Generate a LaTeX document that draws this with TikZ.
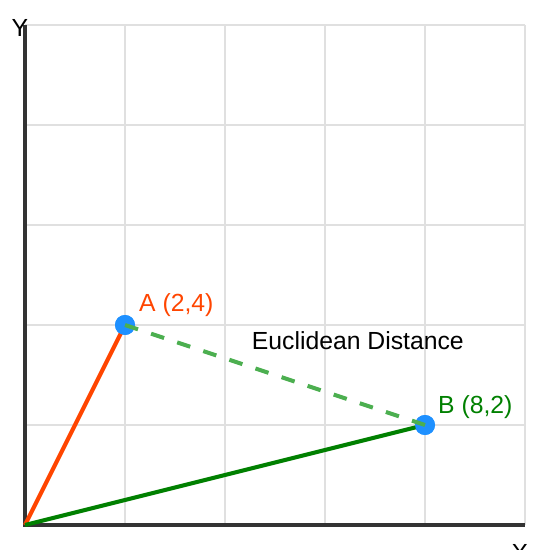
\documentclass[tikz,border=0pt]{standalone}
\usepackage{fontspec}
\setmainfont{Liberation Sans}
\definecolor{gridgray}{HTML}{E0E0E0}
\definecolor{axisgray}{HTML}{333333}
\definecolor{lineorange}{HTML}{FF4500}
\definecolor{linegreen}{HTML}{008000}
\definecolor{distgreen}{HTML}{4CAF50}
\definecolor{pointblue}{HTML}{1E90FF}
\newcommand{\labelsize}{\fontsize{24.75pt}{30pt}\selectfont}
\tikzset{
  gridline/.style={gridgray, line width=1.4pt},
  axisline/.style={axisgray, line width=4pt},
  vecline/.style={line width=4.1pt},
  distline/.style={distgreen, line width=4.1pt, dash pattern=on 13.75pt off 13.75pt},
  point/.style={circle, fill=pointblue, minimum size=20pt, inner sep=0pt},
  lbl/.style={font=\labelsize, inner sep=0pt, anchor=base west},
}

\begin{document}
\begin{tikzpicture}[x=50pt,y=50pt]
    \useasboundingbox (-0.5,-0.5) rectangle (10.5,10.5);
    %background grid
    \draw[gridline, step={(2,2)}] (0,0) grid (10,10);
    %axes
    \coordinate (O) at (0,0);
    \coordinate (xend) at (10,0);
    \coordinate (yend) at (0,10);
    \draw[axisline] (yend) -- (O) -- (xend);
    \node[lbl, anchor=base] (ylabel) at (-0.1,9.76) {Y};
    \node[lbl, anchor=base] (xlabel) at (9.9,-0.72) {X};
    %vectors from origin
    \node[point] (A) at (2,4) {};
    \node[point] (B) at (8,2) {};
    \draw[vecline, lineorange] (O) -- (A.center);
    \draw[vecline, linegreen] (O) -- (B.center);
    \node[point] at (A.center) {};
    \node[point] at (B.center) {};
    %distance between A and B
    \draw[distline] (A.center) -- (B.center);
    \node[lbl] (distlabel) at (4.534,3.514) {Euclidean Distance};
    %point labels
    \node[lbl, lineorange, xshift=14pt, yshift=13pt] (Alabel) at (A.center) {A (2,4)};
    \node[lbl, linegreen, xshift=13pt, yshift=12pt] (Blabel) at (B.center) {B (8,2)};
\end{tikzpicture}
\end{document}
